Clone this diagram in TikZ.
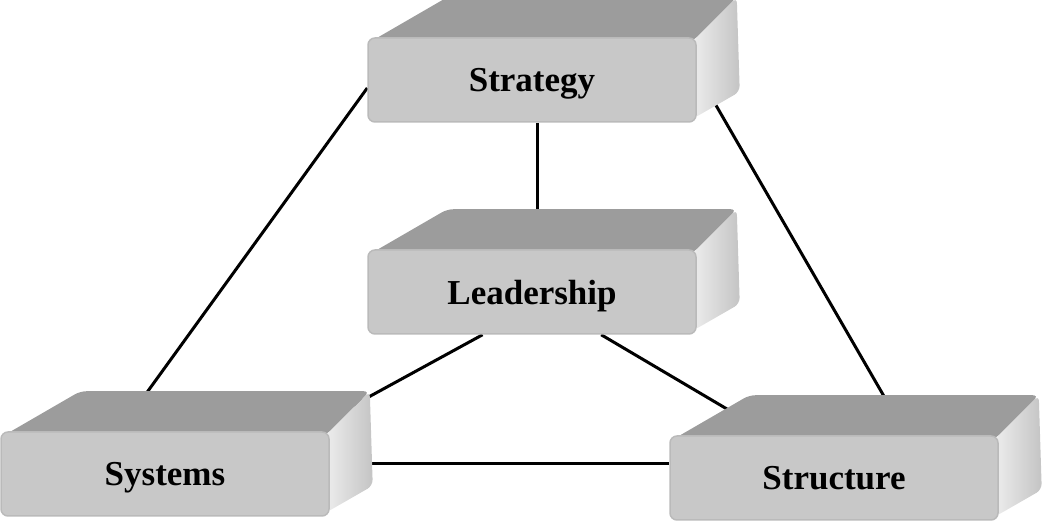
\documentclass[tikz,border=0pt]{standalone}
\usepackage{fontspec}
\setmainfont{Liberation Serif}
\usetikzlibrary{positioning,calc}
\definecolor{frontgray}{HTML}{C8C8C8}
\definecolor{edgegray}{HTML}{BABABA}
\definecolor{topgray}{HTML}{9C9C9C}
\definecolor{sidelight}{HTML}{EDEDED}
\definecolor{sidegray}{HTML}{C4C4C4}
\pgfdeclarelayer{links}
\pgfdeclarelayer{faces}
\pgfsetlayers{links,faces,main}

\begin{document}
\begin{tikzpicture}[
     x=1pt, y=1pt,
     % define styles
     slab/.style={
         fill=frontgray,
         draw=edgegray,
         line width=1.5pt,
         rounded corners=7pt,
         minimum width=328pt,
         minimum height=84pt,
         text depth=0pt,
         font=\fontsize{35}{42}\selectfont\bfseries
     },
     topface/.style={
         fill=topgray,
         rounded corners=6pt
     },
     sideface/.style={
         left color=sidelight,
         right color=sidegray,
         rounded corners=6pt
     },
     link/.style={
         draw,
         line width=3pt
     }
]
\useasboundingbox (0,0) rectangle (1052,524);

% the four boxes
\node[slab] (strat) at (532,444) {Strategy};
\node[slab] (lead)  at (532,232) {Leadership};
\node[slab] (sys)   at (165,50)  {Systems};
\node[slab] (struc) at (834,46)  {Structure};

% top and right faces of each box
\begin{pgfonlayer}{faces}
\foreach \n in {strat,lead,sys,struc} {
    \fill[topface] ($(\n.north west)+(4,-4)$) -- ($(\n.north west)+(80,40)$)
        -- ($(\n.north east)+(40,40)$) -- ($(\n.north east)+(-4,-4)$) -- cycle;
    \shade[sideface] ($(\n.north east)+(-4,-4)$) -- ($(\n.north east)+(40,40)$)
        -- ($(\n.south east)+(43,31)$) -- ($(\n.south east)+(-4,4)$) -- cycle;
}
\end{pgfonlayer}

% connecting lines
\begin{pgfonlayer}{links}
\draw[link] ([yshift=-8pt]strat.west) -- ($(sys.north west)!0.36!(sys.north east)$);
\draw[link] ([yshift=8pt]strat.east) -- ($(struc.north west)!0.72!(struc.north east)$);
\draw[link] ([xshift=5pt]strat.south) -- ([xshift=5pt]lead.north);
\draw[link] ($(lead.south west)!0.35!(lead.south east)$) -- ($(sys.north east)+(11,19)$);
\draw[link] ($(lead.south west)!0.71!(lead.south east)$) -- ($(struc.north west)!0.31!(struc.north east)$);
\draw[link] ([yshift=10pt]sys.east) -- ([yshift=10pt]sys.east -| struc.west);
\end{pgfonlayer}
\end{tikzpicture}
\end{document}
